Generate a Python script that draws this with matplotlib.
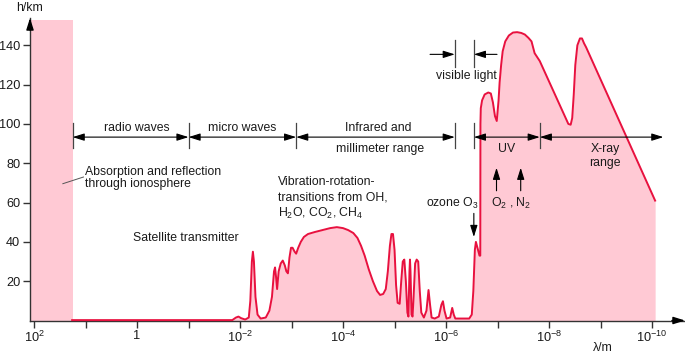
import numpy as np
import matplotlib
matplotlib.use('Agg')
import matplotlib.pyplot as plt

plt.rcParams['font.family'] = ['Liberation Sans', 'DejaVu Sans']
plt.rcParams['mathtext.fontset'] = 'custom'
plt.rcParams['mathtext.rm'] = 'Liberation Sans'
plt.rcParams['mathtext.it'] = 'Liberation Sans:italic'
plt.rcParams['mathtext.default'] = 'regular'

# ---------------- data ----------------
# absorption height curve: log10(wavelength / m) and height in km
curve_logwl = [1.26, -1.85, -1.92, -1.97, -2.02, -2.10, -2.17, -2.20, -2.23, -2.25, -2.27, -2.30,
               -2.34, -2.40, -2.50, -2.57, -2.62, -2.66, -2.68, -2.70, -2.72, -2.75, -2.79, -2.83,
               -2.87, -2.90, -2.93, -2.96, -2.99, -3.02, -3.06, -3.09, -3.13, -3.18, -3.24, -3.32,
               -3.45, -3.60, -3.75, -3.88, -4.00, -4.10, -4.20, -4.28, -4.35, -4.42, -4.50, -4.58,
               -4.66, -4.72, -4.78, -4.83, -4.87, -4.91, -4.94, -4.97, -5.00, -5.03, -5.06, -5.10,
               -5.13, -5.16, -5.19, -5.22, -5.25, -5.27, -5.29, -5.30, -5.31, -5.33, -5.35, -5.37,
               -5.40, -5.43, -5.46, -5.49, -5.52, -5.57, -5.62, -5.66, -5.69, -5.72, -5.78, -5.86,
               -5.91, -5.94, -5.97, -6.01, -6.08, -6.12, -6.15, -6.18, -6.45, -6.50, -6.53, -6.56,
               -6.58, -6.61, -6.65, -6.665, -6.668, -6.675, -6.70, -6.75, -6.82, -6.87, -6.91, -6.95,
               -6.985, -7.02, -7.04, -7.07, -7.10, -7.15, -7.22, -7.30, -7.38, -7.46, -7.53, -7.60,
               -7.66, -7.72, -7.82, -8.375, -8.42, -8.45, -8.48, -8.51, -8.55, -8.60, -8.64, -8.68,
               -8.72, -10.06]
curve_h = [0.2, 0.2, 1.5, 2.0, 1.2, 0.5, 1.5, 10, 30, 35, 30, 12,
           3, 1, 1.5, 5, 12, 25, 27, 22, 16, 25, 29, 30.5,
           28, 25, 24, 32, 37, 37, 35, 34, 37, 40, 42.5, 44,
           45, 46, 47, 47.5, 47, 46, 44.5, 42, 38, 33, 26, 20,
           15, 13, 13.5, 16, 25, 38, 44, 44, 36, 18, 9, 8.5,
           20, 30, 31, 20, 4, 2, 25, 31, 25, 3, 2, 12,
           29, 31, 30, 15, 4, 1.5, 5, 15.5, 8, 1.5, 1, 2,
           8, 9.8, 5, 1, 1.5, 6.4, 3, 1, 1, 3, 15, 36,
           40, 37, 33, 33, 100, 108, 112, 115, 116, 115.5, 111, 104,
           101.5, 112, 121, 130, 137, 142, 145, 146.5, 146.7, 146.3, 145.5, 143.8,
           142, 136, 132, 100, 99.6, 103, 115, 130, 140, 143.5, 143.5, 141,
           139, 61]

iono_logwl = [2.08, 1.25]     # ionosphere absorption band
iono_h = 153

band_edges_log = [1.25, -1.0, -3.09, -6.17, -6.54, -7.82]   # region boundaries
xray_end_log = -10.22

xtick_exp = list(range(2, -11, -1))
ytick_vals = [20, 40, 60, 80, 100, 120, 140]

# ---------------- style ----------------
PINK = '#FFC9D4'
RED = '#E8113F'
TXT = '#1a1a1a'
AX = '#333333'
FS = 8.8

fig = plt.figure(figsize=(6.85, 3.56), dpi=100)
ax = fig.add_axes([30/685, (356-320.5)/356, (685-30)/685, (320.5-18)/356])
ax.set_xscale('log')
ax.set_xlim(10**2.078, 10**-10.64)
ax.set_ylim(0, 153.9)

W = lambda e: 10.0**np.asarray(e, dtype=float)

# ionosphere band
ax.fill_between(W(iono_logwl), 0, iono_h, color=PINK, lw=0, zorder=1)
# absorption curve
wl = W(curve_logwl)
ax.fill_between(wl, 0, curve_h, color=PINK, lw=0, zorder=1)
ax.plot(wl, curve_h, color=RED, lw=1.4, zorder=3, clip_on=False, solid_joinstyle='round')

# spines
for s in ['top', 'right']:
    ax.spines[s].set_visible(False)
for s in ['left', 'bottom']:
    ax.spines[s].set_color(AX)
    ax.spines[s].set_linewidth(1.0)
    ax.spines[s].set_zorder(2)
ax.annotate('', xy=(1.0, 0), xytext=(0.98, 0), xycoords='axes fraction',
            arrowprops=dict(arrowstyle='-|>,head_length=0.7,head_width=0.22', color='black',
                            lw=1.0, shrinkA=0, shrinkB=0, mutation_scale=10), annotation_clip=False)
ax.annotate('', xy=(0, 1.0), xytext=(0, 0.96), xycoords='axes fraction',
            arrowprops=dict(arrowstyle='-|>,head_length=0.7,head_width=0.22', color='black',
                            lw=1.0, shrinkA=0, shrinkB=0, mutation_scale=10), annotation_clip=False)

# ticks
ax.set_xticks(W(xtick_exp))
labels = []
for e in xtick_exp:
    if e % 2:
        labels.append('')
    elif e == 0:
        labels.append('1')
    else:
        labels.append('$10^{%d}$' % e)
ax.set_xticklabels(labels)
ax.xaxis.set_minor_locator(matplotlib.ticker.NullLocator())
ax.set_yticks(ytick_vals)
ax.tick_params(direction='out', length=5, width=1, color=AX, labelsize=9.2, labelcolor=TXT, pad=2)

fig.text(30/685, 1 - 8/356, 'h/km', ha='center', va='center', fontsize=FS, color=TXT)
fig.text(603/685, 1 - 348/356, 'λ/m', ha='center', va='center', fontsize=FS, color=TXT)

arrow_kw = dict(arrowstyle='<|-|>,head_length=0.7,head_width=0.22', color='black', lw=0.8,
                shrinkA=0, shrinkB=0, mutation_scale=10)
single_kw = dict(arrowstyle='-|>,head_length=0.7,head_width=0.22', color='black', lw=0.8,
                 shrinkA=0, shrinkB=0, mutation_scale=10)

# region range arrows
yr = 93.3
pairs = [(band_edges_log[0], band_edges_log[1]), (band_edges_log[1], band_edges_log[2]),
         (band_edges_log[2], band_edges_log[3]), (band_edges_log[4], band_edges_log[5]),
         (band_edges_log[5], xray_end_log)]
for a, b in pairs:
    ax.annotate('', xy=(W(a), yr), xytext=(W(b), yr), arrowprops=arrow_kw)
for e in band_edges_log:
    ax.plot([W(e), W(e)], [88, 100.5], color='#444444', lw=0.9, zorder=4)

# visible light marks
for e in band_edges_log[3:5]:
    ax.plot([W(e), W(e)], [129, 142.5], color='#444444', lw=0.9, zorder=4)
ax.annotate('', xy=(W(band_edges_log[3]), 135.4), xytext=(W(-5.69), 135.4), arrowprops=single_kw)
ax.annotate('', xy=(W(band_edges_log[4]), 135.4), xytext=(W(-6.99), 135.4), arrowprops=single_kw)

tk = dict(fontsize=FS, color=TXT)
ax.text(W(0.006), 98, 'radio waves', ha='center', va='center', **tk)
ax.text(W(-2.05), 98, 'micro waves', ha='center', va='center', **tk)
ax.text(W(-4.69), 98, 'Infrared and', ha='center', va='center', **tk)
ax.text(W(-4.72), 87.5, 'millimeter range', ha='center', va='center', **tk)
ax.text(W(-6.40), 124.5, 'visible light', ha='center', va='center', **tk)
ax.text(W(-7.18), 87.5, 'UV', ha='center', va='center', **tk)
ax.text(W(-9.09), 87.5, 'X-ray', ha='center', va='center', **tk)
ax.text(W(-9.09), 80, 'range', ha='center', va='center', **tk)

ax.text(W(1.01), 75.8, 'Absorption and reflection', ha='left', va='center', **tk)
ax.text(W(1.01), 69.2, 'through ionosphere', ha='left', va='center', **tk)
ax.plot(W([1.44, 1.04]), [69.6, 73.0], color='#555555', lw=0.7, zorder=4)

ax.text(W(-2.74), 70.7, 'Vibration-rotation-', ha='left', va='center', **tk)
ax.text(W(-2.74), 62.6, 'transitions from OH,', ha='left', va='center', **tk)
ax.text(W(-2.74), 54.5, 'H$_2$O, CO$_2$, CH$_4$', ha='left', va='center', **tk)
ax.text(W(0.08), 42.2, 'Satellite transmitter', ha='left', va='center', **tk)

ax.text(W(-6.12), 59.5, 'ozone O$_3$', ha='center', va='center', **tk)
ax.annotate('', xy=(W(-6.54), 42.5), xytext=(W(-6.54), 54.5), arrowprops=single_kw)
ax.text(W(-7.26), 59.5, 'O$_2$ , N$_2$', ha='center', va='center', **tk)
ax.annotate('', xy=(W(-6.98), 77.7), xytext=(W(-6.98), 66), arrowprops=single_kw)
ax.annotate('', xy=(W(-7.45), 77.7), xytext=(W(-7.45), 66), arrowprops=single_kw)

fig.savefig('out.png', dpi=100)
